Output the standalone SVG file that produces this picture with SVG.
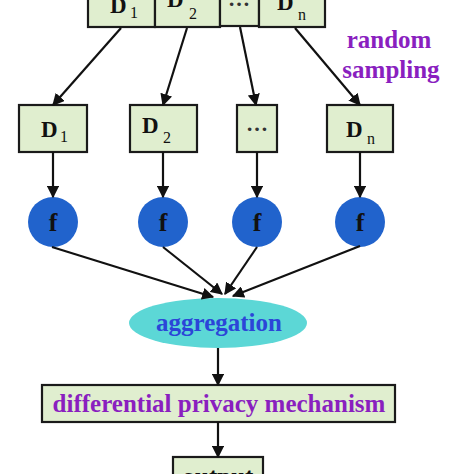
<svg xmlns="http://www.w3.org/2000/svg" width="474" height="474" viewBox="0 0 474 474">
<defs>
<marker id="ah" viewBox="0 0 10 10" refX="9" refY="5" markerWidth="5.5" markerHeight="5.5" orient="auto" markerUnits="strokeWidth">
<path d="M0,0 L10,5 L0,10 z" fill="#111"/>
</marker>
<style>
.box{fill:#e0eecf;stroke:#1a1a1a;stroke-width:2.2}
.d{font-family:"Liberation Serif",serif;font-weight:bold;font-size:23px;fill:#111}
.sub{font-family:"Liberation Serif",serif;font-size:16px;fill:#111}
.dots{font-family:"Liberation Serif",serif;font-weight:bold;font-size:22px;fill:#333;text-anchor:middle}
.f{font-family:"Liberation Serif",serif;font-weight:bold;font-size:26px;fill:#111;text-anchor:middle}
.circ{fill:#2163cc}
.big{font-family:"Liberation Serif",serif;font-weight:bold;font-size:25px;text-anchor:middle}
.conn line{stroke:#111;stroke-width:2.2;marker-end:url(#ah)}
</style>
</defs>
<rect width="474" height="474" fill="#ffffff"/>

<g id="top-row">
<rect class="box" x="88" y="-10" width="67" height="37"/>
<rect class="box" x="155" y="-10" width="65" height="37"/>
<rect class="box" x="220" y="-10" width="39" height="36"/>
<rect class="box" x="259" y="-10" width="66" height="37"/>
<text class="d" x="110" y="13">D</text><text class="sub" x="130" y="18">1</text>
<text class="d" x="167" y="7">D</text><text class="sub" x="189" y="19">2</text>
<text class="dots" x="239" y="6">…</text>
<text class="d" x="277" y="10">D</text><text class="sub" x="298" y="20">n</text>
</g>

<g id="random-sampling">
<text class="big" x="389" y="48" fill="#8a1fbf">random</text>
<text class="big" x="391" y="78" fill="#8a1fbf">sampling</text>
</g>

<g id="d1"><rect class="box" x="19" y="105" width="68" height="47"/>
<text class="d" x="41" y="137">D</text><text class="sub" x="60" y="142">1</text></g>
<g id="d2"><rect class="box" x="130" y="105" width="67" height="47"/>
<text class="d" x="142" y="133">D</text><text class="sub" x="163" y="143">2</text></g>
<g id="dots"><rect class="box" x="237" y="105" width="40" height="47"/>
<text class="dots" x="257" y="131">…</text></g>
<g id="dn"><rect class="box" x="327" y="105" width="66" height="47"/>
<text class="d" x="346" y="137">D</text><text class="sub" x="367" y="144">n</text></g>

<g id="f1"><circle class="circ" cx="53" cy="222" r="25"/><text class="f" x="53" y="231">f</text></g>
<g id="f2"><circle class="circ" cx="163" cy="222" r="25"/><text class="f" x="163" y="231">f</text></g>
<g id="f3"><circle class="circ" cx="257" cy="222" r="25"/><text class="f" x="257" y="231">f</text></g>
<g id="f4"><circle class="circ" cx="360" cy="222" r="25"/><text class="f" x="360" y="231">f</text></g>

<g id="aggregation">
<ellipse cx="218" cy="323" rx="89" ry="25" fill="#5cd7d6"/>
<text class="big" x="219" y="331" fill="#2b45d8">aggregation</text>
</g>

<g id="dp">
<rect class="box" x="42" y="385" width="353" height="37"/>
<text class="big" x="219" y="412" fill="#8a1fbf">differential privacy mechanism</text>
</g>

<g id="output">
<rect class="box" x="173" y="457" width="90" height="30"/>
<text class="big" x="218" y="485" fill="#111">output</text>
</g>

<g class="conn" id="connectors">
<line x1="121" y1="28" x2="53" y2="105"/>
<line x1="187" y1="28" x2="163" y2="105"/>
<line x1="240" y1="27" x2="256" y2="105"/>
<line x1="295" y1="28" x2="360" y2="105"/>
<line x1="53" y1="152" x2="53" y2="197"/>
<line x1="163" y1="152" x2="163" y2="197"/>
<line x1="257" y1="152" x2="257" y2="197"/>
<line x1="360" y1="152" x2="360" y2="197"/>
<line x1="52" y1="247" x2="213" y2="297"/>
<line x1="163" y1="247" x2="222" y2="294"/>
<line x1="257" y1="247" x2="225" y2="294"/>
<line x1="360" y1="246" x2="233" y2="296"/>
<line x1="218" y1="348" x2="218" y2="385"/>
<line x1="218" y1="422" x2="218" y2="457"/>
</g>
</svg>
